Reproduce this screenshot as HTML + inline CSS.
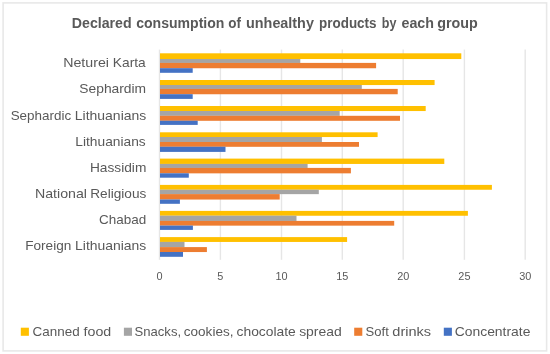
<!DOCTYPE html>
<html lang="en">
<head>
<meta charset="utf-8">
<title>Declared consumption of unhealthy products by each group</title>
<style>
html,body{margin:0;padding:0;background:#fff;}
body{width:550px;height:354px;overflow:hidden;}
svg{display:block;filter:blur(0.35px);}
text{font-family:"Liberation Sans",sans-serif;fill:#595959;}
.t{font-weight:bold;font-size:13.8px;}
.c{font-size:13.1px;}
.a{font-size:10.9px;text-anchor:middle;}
.l{font-size:13.2px;}
</style>
</head>
<body>
<svg width="550" height="354" viewBox="0 0 550 354">
<rect x="0" y="0" width="550" height="354" fill="#ffffff"/>
<rect x="3.1" y="2.9" width="543.5" height="348" fill="none" stroke="#E8E8E8" stroke-width="1.6"/>
<text class="t" y="28.00"><tspan x="71.81" textLength="59.82" lengthAdjust="spacingAndGlyphs">Declared</tspan> <tspan x="136.20" textLength="88.20" lengthAdjust="spacingAndGlyphs">consumption</tspan> <tspan x="228.25" textLength="12.71" lengthAdjust="spacingAndGlyphs">of</tspan> <tspan x="246.07" textLength="67.83" lengthAdjust="spacingAndGlyphs">unhealthy</tspan> <tspan x="319.05" textLength="57.48" lengthAdjust="spacingAndGlyphs">products</tspan> <tspan x="381.76" textLength="14.61" lengthAdjust="spacingAndGlyphs">by</tspan> <tspan x="401.50" textLength="32.46" lengthAdjust="spacingAndGlyphs">each</tspan> <tspan x="437.20" textLength="40.60" lengthAdjust="spacingAndGlyphs">group</tspan></text>
<g stroke="#E6E6E6" stroke-width="1.4">
<line x1="159.5" y1="49.6" x2="159.5" y2="259.8"/>
<line x1="220.4" y1="49.6" x2="220.4" y2="259.8"/>
<line x1="281.5" y1="49.6" x2="281.5" y2="259.8"/>
<line x1="342.3" y1="49.6" x2="342.3" y2="259.8"/>
<line x1="403.2" y1="49.6" x2="403.2" y2="259.8"/>
<line x1="464.4" y1="49.6" x2="464.4" y2="259.8"/>
<line x1="525.2" y1="49.6" x2="525.2" y2="259.8"/>
</g>
<g>
<rect x="160.0" y="53.30" width="301.3" height="5.75" fill="#FFC000"/>
<rect x="160.0" y="59.00" width="140.3" height="3.95" fill="#A5A5A5"/>
<rect x="160.0" y="62.90" width="216.1" height="5.35" fill="#ED7D31"/>
<rect x="160.0" y="68.20" width="32.7" height="4.60" fill="#4472C4"/>
</g>
<g>
<rect x="160.0" y="80.00" width="274.6" height="5.05" fill="#FFC000"/>
<rect x="160.0" y="85.00" width="201.8" height="3.95" fill="#A5A5A5"/>
<rect x="160.0" y="88.90" width="237.7" height="5.35" fill="#ED7D31"/>
<rect x="160.0" y="94.20" width="32.7" height="4.70" fill="#4472C4"/>
</g>
<g>
<rect x="160.0" y="106.00" width="265.7" height="5.05" fill="#FFC000"/>
<rect x="160.0" y="111.00" width="179.7" height="4.85" fill="#A5A5A5"/>
<rect x="160.0" y="115.80" width="240.0" height="5.00" fill="#ED7D31"/>
<rect x="160.0" y="120.75" width="37.7" height="4.15" fill="#4472C4"/>
</g>
<g>
<rect x="160.0" y="132.30" width="217.6" height="4.75" fill="#FFC000"/>
<rect x="160.0" y="137.00" width="161.9" height="5.05" fill="#A5A5A5"/>
<rect x="160.0" y="142.00" width="199.0" height="4.80" fill="#ED7D31"/>
<rect x="160.0" y="146.75" width="65.5" height="5.15" fill="#4472C4"/>
</g>
<g>
<rect x="160.0" y="158.60" width="284.3" height="5.35" fill="#FFC000"/>
<rect x="160.0" y="163.90" width="147.6" height="4.05" fill="#A5A5A5"/>
<rect x="160.0" y="167.90" width="190.9" height="5.45" fill="#ED7D31"/>
<rect x="160.0" y="173.30" width="28.8" height="4.40" fill="#4472C4"/>
</g>
<g>
<rect x="160.0" y="184.90" width="331.9" height="4.85" fill="#FFC000"/>
<rect x="160.0" y="189.70" width="158.8" height="4.45" fill="#A5A5A5"/>
<rect x="160.0" y="194.10" width="119.7" height="5.45" fill="#ED7D31"/>
<rect x="160.0" y="199.50" width="19.9" height="4.30" fill="#4472C4"/>
</g>
<g>
<rect x="160.0" y="210.90" width="307.9" height="4.85" fill="#FFC000"/>
<rect x="160.0" y="215.70" width="136.5" height="5.25" fill="#A5A5A5"/>
<rect x="160.0" y="220.90" width="234.2" height="4.75" fill="#ED7D31"/>
<rect x="160.0" y="225.60" width="32.9" height="4.30" fill="#4472C4"/>
</g>
<g>
<rect x="160.0" y="237.10" width="187.1" height="4.85" fill="#FFC000"/>
<rect x="160.0" y="241.90" width="24.5" height="5.25" fill="#A5A5A5"/>
<rect x="160.0" y="247.10" width="46.9" height="4.95" fill="#ED7D31"/>
<rect x="160.0" y="252.00" width="23.0" height="4.80" fill="#4472C4"/>
</g>
<text class="c" y="67.00"><tspan x="63.23" textLength="45.77" lengthAdjust="spacingAndGlyphs">Neturei</tspan> <tspan x="112.84" textLength="32.85" lengthAdjust="spacingAndGlyphs">Karta</tspan></text>
<text class="c" y="93.00"><tspan x="79.30" textLength="66.84" lengthAdjust="spacingAndGlyphs">Sephardim</tspan></text>
<text class="c" y="120.00"><tspan x="10.66" textLength="60.49" lengthAdjust="spacingAndGlyphs">Sephardic</tspan> <tspan x="74.82" textLength="71.45" lengthAdjust="spacingAndGlyphs">Lithuanians</tspan></text>
<text class="c" y="146.00"><tspan x="75.33" textLength="70.34" lengthAdjust="spacingAndGlyphs">Lithuanians</tspan></text>
<text class="c" y="172.00"><tspan x="89.96" textLength="56.38" lengthAdjust="spacingAndGlyphs">Hassidim</tspan></text>
<text class="c" y="198.00"><tspan x="35.03" textLength="51.98" lengthAdjust="spacingAndGlyphs">National</tspan> <tspan x="90.24" textLength="56.07" lengthAdjust="spacingAndGlyphs">Religious</tspan></text>
<text class="c" y="224.00"><tspan x="99.02" textLength="47.17" lengthAdjust="spacingAndGlyphs">Chabad</tspan></text>
<text class="c" y="250.00"><tspan x="25.21" textLength="46.15" lengthAdjust="spacingAndGlyphs">Foreign</tspan> <tspan x="75.05" textLength="71.18" lengthAdjust="spacingAndGlyphs">Lithuanians</tspan></text>
<text class="a" x="159.5" y="279.9">0</text>
<text class="a" x="220.4" y="279.9">5</text>
<text class="a" x="281.5" y="279.9">10</text>
<text class="a" x="342.3" y="279.9">15</text>
<text class="a" x="403.2" y="279.9">20</text>
<text class="a" x="464.4" y="279.9">25</text>
<text class="a" x="525.2" y="279.9">30</text>
<rect x="20.8" y="327.7" width="8.1" height="8.1" fill="#FFC000"/>
<text class="l" y="335.80"><tspan x="32.60" textLength="47.03" lengthAdjust="spacingAndGlyphs">Canned</tspan> <tspan x="83.62" textLength="27.67" lengthAdjust="spacingAndGlyphs">food</tspan></text>
<rect x="123.9" y="327.7" width="8.1" height="8.1" fill="#A5A5A5"/>
<text class="l" y="335.80"><tspan x="134.52" textLength="46.56" lengthAdjust="spacingAndGlyphs">Snacks,</tspan> <tspan x="183.82" textLength="49.63" lengthAdjust="spacingAndGlyphs">cookies,</tspan> <tspan x="236.53" textLength="59.27" lengthAdjust="spacingAndGlyphs">chocolate</tspan> <tspan x="299.15" textLength="42.60" lengthAdjust="spacingAndGlyphs">spread</tspan></text>
<rect x="354.2" y="327.7" width="8.1" height="8.1" fill="#ED7D31"/>
<text class="l" y="335.80"><tspan x="365.58" textLength="23.24" lengthAdjust="spacingAndGlyphs">Soft</tspan> <tspan x="392.33" textLength="38.79" lengthAdjust="spacingAndGlyphs">drinks</tspan></text>
<rect x="443.8" y="327.7" width="8.1" height="8.1" fill="#4472C4"/>
<text class="l" y="335.80"><tspan x="454.72" textLength="75.67" lengthAdjust="spacingAndGlyphs">Concentrate</tspan></text>
</svg>
</body>
</html>
